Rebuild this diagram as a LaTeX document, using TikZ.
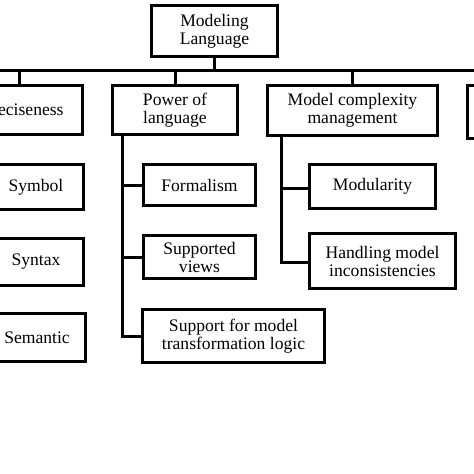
\documentclass[tikz,border=0pt]{standalone}
\usepackage{fontspec}
\setmainfont{Liberation Serif}
\usepackage{tikz}
\usetikzlibrary{positioning}
\tikzset{
  treebox/.style={draw=black,line width=3pt,fill=white,align=center,
    inner sep=0pt,font=\fontsize{17.6}{18}\selectfont},
  treelink/.style={draw=black,line width=3pt}
}

\begin{document}
\begin{tikzpicture}[x=1pt,y=-1pt]
  \useasboundingbox (0,0) rectangle (474,474);
  \clip (0,0) rectangle (474,474);
  % root and first level
  \node[treebox,minimum width=126pt,minimum height=51pt] (root) at (214.5,31)
    {Modeling\\Language};
  \node[treebox,minimum width=119pt,minimum height=49pt] (prec) at (23,110)
    {Preciseness};
  \node[treebox,minimum width=125pt,minimum height=49pt] (power) at (175,110)
    {Power of\\language};
  \node[treebox,minimum width=170pt,minimum height=50pt] (cmplx) at (352.5,110.5)
    {Model complexity\\management};
  \node[treebox,minimum width=105pt,minimum height=53pt] (more) at (520,112) {};
  % second level
  \node[treebox,minimum width=95pt,minimum height=45pt] (symb) at (36,187)
    {Symbol};
  \node[treebox,minimum width=95pt,minimum height=47pt] (synt) at (36,262)
    {Syntax};
  \node[treebox,minimum width=97pt,minimum height=48pt] (sem) at (37,337.5)
    {Semantic};
  \node[treebox,minimum width=112pt,minimum height=41pt] (form) at (199.5,185)
    {Formalism};
  \node[treebox,minimum width=112pt,minimum height=43pt] (views) at (199.5,257)
    {Supported\\views};
  \node[treebox,minimum width=182pt,minimum height=53pt] (trans) at (233.5,336)
    {Support for model\\transformation logic};
  \node[treebox,minimum width=126pt,minimum height=44pt] (modu) at (372.5,186.5)
    {Modularity};
  \node[treebox,minimum width=146pt,minimum height=55pt] (incons) at (382.5,261)
    {Handling model\\inconsistencies};
  % bus
  \coordinate (busw) at (-60,70);
  \coordinate (buse) at (560,70);
  \draw[treelink] (busw) -- (buse);
  \draw[treelink] (root.south) -- (root.south |- busw);
  \foreach \n in {power,cmplx,more}
    \draw[treelink] (\n.north) -- (\n.north |- busw);
  \draw[treelink] ([xshift=-4pt]prec.north) -- ([xshift=-4pt]prec.north |- busw);
  % spines
  \coordinate (precspine) at ([xshift=8pt]prec.south west);
  \coordinate (powspine) at ([xshift=11.5pt]power.south west);
  \coordinate (cmpspine) at ([xshift=15.5pt]cmplx.south west);
  \foreach \n in {symb,synt,sem}
    \draw[treelink] (precspine) |- (\n.west);
  \foreach \n in {form,views,trans}
    \draw[treelink] (powspine) |- (\n.west);
  \draw[treelink] (cmpspine) |- ([yshift=-1.5pt]modu.west);
  \draw[treelink] (cmpspine) |- ([yshift=-1pt]incons.west);
\end{tikzpicture}
\end{document}
